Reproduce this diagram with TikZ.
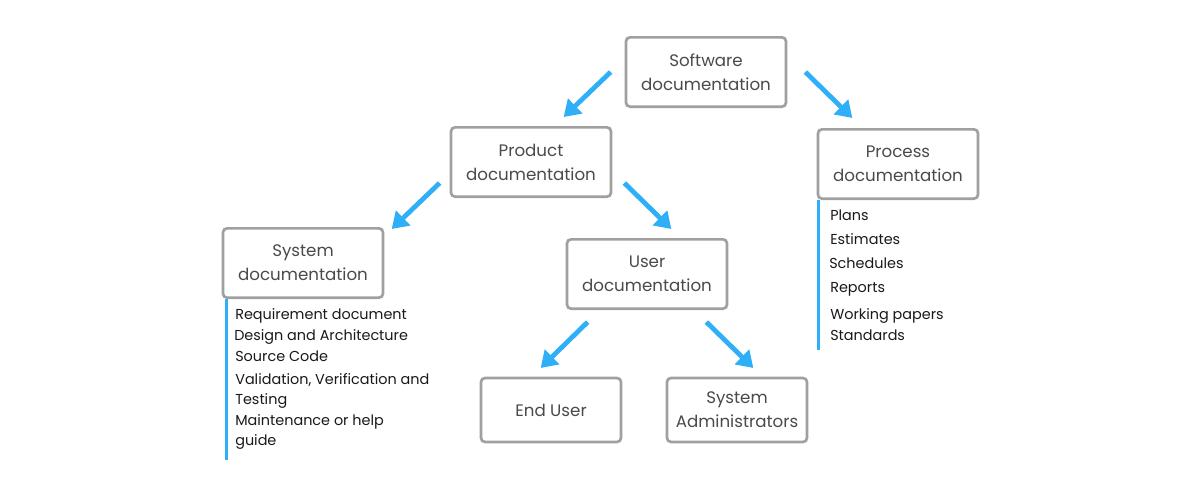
\documentclass[tikz,border=0pt]{standalone}
\usepackage{fontspec}
\setmainfont{Poppins}
\usetikzlibrary{calc}
\usetikzlibrary{arrows.meta}

\definecolor{boxgray}{HTML}{A0A0A0}
\definecolor{txtgray}{HTML}{4A4A4A}
\definecolor{arrblue}{HTML}{2EAFF7}

\tikzset{
    docbox/.style={draw=boxgray, line width=2pt, rounded corners=3pt, fill=white,
        minimum width=120pt, minimum height=52pt, align=center, text=txtgray,
        font=\fontsize{12.5pt}{18pt}\selectfont},
    leafbox/.style={docbox, minimum width=105pt, minimum height=48pt},
    arr/.style={draw=arrblue, line width=3.6pt, -{Triangle[length=12pt,width=15pt]}},
    bar/.style={draw=arrblue, line width=2pt},
    item/.style={anchor=base west, inner sep=0pt, text=black!90,
        font=\fontsize{10.8pt}{12pt}\selectfont}
}

\begin{document}
\begin{tikzpicture}[x=0.75pt, y=-0.75pt]
    \useasboundingbox (0,0) rectangle (1200,500);

    \node[docbox] (soft) at (706,72)  {Software\\documentation};
    \node[docbox] (prod) at (531,162) {Product\\documentation};
    \node[docbox] (proc) at (898,164) {Process\\documentation};
    \node[docbox] (sys)  at (303,263) {System\\documentation};
    \node[docbox] (user) at (647,274) {User\\documentation};
    \node[leafbox] (endu) at (551,410) {End User};
    \node[leafbox] (adm)  at (737,410) {System\\Administrators};

    \draw[arr] ($ (soft.west)+(-14,0) $) -- ++(-47,45);
    \draw[arr] ($ (soft.east)+( 18,0) $) -- ++( 47,46);
    \draw[arr] ($ (prod.west)+(-10,21) $) -- ++(-48,46);
    \draw[arr] ($ (prod.east)+( 12,21) $) -- ++( 47,46);
    \draw[arr] ($ (user.south west)+(22,12) $) -- ++(-47,46);
    \draw[arr] ($ (user.south east)+(-22,12) $) -- ++( 47,46);

    \draw[bar] ($ (sys.south west)+(5,0) $) -- ++(0,161);
    \node[item] (s1) at (235,319) {Requirement document};
    \node[item] (s2) at (234,340) {Design and Architecture};
    \node[item] (s3) at (235,361) {Source Code};
    \node[item] (s4) at (235,384) {Validation, Verification and};
    \node[item] (s5) at (235,404) {Testing};
    \node[item] (s6) at (235,425) {Maintenance or help};
    \node[item] (s7) at (235,445) {guide};

    \draw[bar] ($ (proc.south west)+(2,0) $) -- ++(0,150);
    \node[item] (p1) at (830,220) {Plans};
    \node[item] (p2) at (830,244) {Estimates};
    \node[item] (p3) at (829,268) {Schedules};
    \node[item] (p4) at (830,292) {Reports};
    \node[item] (p5) at (830,319) {Working papers};
    \node[item] (p6) at (830,340) {Standards};
\end{tikzpicture}
\end{document}
